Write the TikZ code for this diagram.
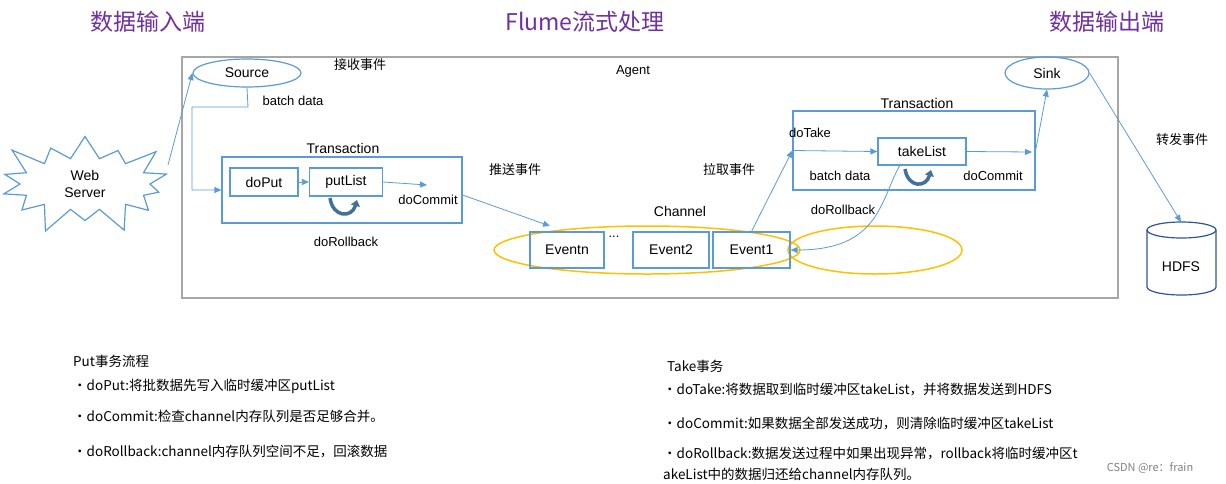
\documentclass[tikz,border=0pt]{standalone}
\usepackage{fontspec}
\setmainfont{Liberation Sans}
\newfontfamily\zh{Noto Sans CJK SC}
\usetikzlibrary{shapes.geometric,shapes.symbols,arrows.meta}
\definecolor{bl}{RGB}{91,155,213}
\definecolor{dbl}{RGB}{65,113,156}
\definecolor{yl}{RGB}{255,192,0}
\definecolor{pu}{RGB}{112,48,160}
\definecolor{hb}{RGB}{47,85,151}
\begin{document}
\begin{tikzpicture}[x=1pt,y=-1pt,
  box/.style={draw=bl,line width=1.2pt,minimum width=#1,minimum height=28pt,inner sep=0pt,font=\fontsize{14}{14}\selectfont},
  lab/.style={font=\fontsize{13}{13}\selectfont,inner sep=0pt},
  zhl/.style={font=\zh\fontsize{13}{13}\selectfont,inner sep=0pt},
  arr/.style={draw=bl,line width=0.8pt,-{Triangle[length=7pt,width=6pt]}},
  tt/.style={font=\zh\fontsize{23}{23}\selectfont,text=pu,inner sep=0pt},
  bt/.style={font=\zh\fontsize{13.5}{14}\selectfont,anchor=west,inner sep=0pt}]
\useasboundingbox (0,0) rectangle (1226,483);
\node[tt] (t1) at (148,22) {数据输入端};
\node[tt] (t2) at (585,22) {Flume流式处理};
\node[tt] (t3) at (1107,22) {数据输出端};
\draw[gray!70,line width=1.5pt] (182,57) rectangle (1118,298);
\node[draw=bl,line width=1.2pt,ellipse,minimum width=108pt,minimum height=28pt,inner sep=0pt,font=\fontsize{14}{14}\selectfont] (src) at (247,73) {Source};
\node[zhl] (recv) at (360,65) {接收事件};
\node[lab] (agent) at (633,71) {Agent};
\node[lab] (bd1) at (293,101) {batch data};
\node[draw=bl,line width=1.2pt,starburst,starburst points=14,starburst point height=30pt,minimum width=190pt,minimum height=112pt,align=center,font=\fontsize{14}{17}\selectfont,inner sep=0pt] (web) at (85,184) {Web\\Server};
\coordinate (wtip) at (168,165);
\draw[arr] (wtip) -- (src.west);
\node[draw=bl,line width=1.2pt,minimum width=240pt,minimum height=66pt,inner sep=0pt] (tr1) at (342,190) {};
\node[lab,font=\fontsize{14}{14}\selectfont] (trl1) at (343,148) {Transaction};
\draw[arr] (src.south) -- (248,107) -- (192,107) -- (192,190) -- (tr1.west);
\node[box=68pt] (doput) at (264,182) {doPut};
\node[box=73pt] (putl) at (346,182) {putList};
\draw[arr] (doput) -- (putl);
\coordinate (pc) at (427,185);
\draw[arr] (putl.east) -- (pc);
\node[lab] (dc1) at (428,200) {doCommit};
\draw[dbl,line width=3.5pt,-{Triangle[length=6pt,width=9pt]}] (330,198) .. controls (333,218) and (352,218) .. (357,200);
\node[lab] (dr1) at (346,242) {doRollback};
\node[zhl] (push) at (515,170) {推送事件};
\node[zhl] (pull) at (729,170) {拉取事件};
\node[lab,font=\fontsize{14}{14}\selectfont] (chl) at (680,211) {Channel};
\draw[yl,line width=1.5pt] (647,250) ellipse [x radius=153, y radius=24];
\draw[yl,line width=1.5pt] (875,250) ellipse [x radius=87, y radius=24];
\node[box=74pt,minimum height=36pt] (en) at (567,250) {Eventn};
\node[lab] (dots) at (614,237) {...};
\node[box=76pt,minimum height=36pt] (e2) at (671,250) {Event2};
\node[box=77pt,minimum height=36pt] (e1) at (751.5,250) {Event1};
\draw[arr] (tr1.east) ++(0,5) -- (550,226);
\node[draw=bl,line width=1.2pt,minimum width=242pt,minimum height=79pt,inner sep=0pt] (tr2) at (914,150.5) {};
\node[lab,font=\fontsize{14}{14}\selectfont] (trl2) at (917,103) {Transaction};
\node[box=88pt,minimum height=27pt] (tkl) at (922,151.5) {takeList};
\draw[arr] (e1.north) -- (tr2.west);
\draw[arr] (tr2.west) -- (tkl.west);
\node[lab] (dt) at (810,133) {doTake};
\node[lab] (bd2) at (840,176) {batch data};
\node[lab] (dc2) at (993,176) {doCommit};
\coordinate (tc) at (1032,152);
\draw[arr] (tkl.east) -- (tc);
\draw[dbl,line width=3.5pt,-{Triangle[length=6pt,width=9pt]}] (905,169) .. controls (908,188) and (926,188) .. (931,170);
\node[lab] (dr2) at (843,210) {doRollback};
\draw[arr] (900,165) .. controls (880,200) and (880,250) .. (e1.east);
\node[draw=bl,line width=1.2pt,ellipse,minimum width=84pt,minimum height=32pt,inner sep=0pt,font=\fontsize{14}{14}\selectfont] (sink) at (1047,73) {Sink};
\draw[arr] (tr2.east) -- (sink.south);
\coordinate (hdfs) at (1181,222);
\draw[hb,line width=1.2pt] (1147,230) -- (1147,287) arc[start angle=180,end angle=360,x radius=34.5,y radius=-8] -- (1216,230);
\draw[hb,line width=1.2pt] (1181.5,230) ellipse [x radius=34.5,y radius=8];
\node[lab,font=\fontsize{14}{14}\selectfont] (hl) at (1181,267) {HDFS};
\draw[arr] (sink.east) -- (hdfs);
\node[zhl] (fw) at (1182,140) {转发事件};
\node[bt] (p0) at (73,361) {Put事务流程};
\node[bt] (p1) at (73,386) {•doPut:将批数据先写入临时缓冲区putList};
\node[bt] (p2) at (73,416) {•doCommit:检查channel内存队列是否足够合并。};
\node[bt] (p3) at (73,452) {•doRollback:channel内存队列空间不足，回滚数据};
\node[bt] (q0) at (667,366) {Take事务};
\node[bt] (q1) at (663,390) {•doTake:将数据取到临时缓冲区takeList，并将数据发送到HDFS};
\node[bt] (q2) at (663,423) {•doCommit:如果数据全部发送成功，则清除临时缓冲区takeList};
\node[bt] (q3) at (663,454) {•doRollback:数据发送过程中如果出现异常，rollback将临时缓冲区t};
\node[bt] (q4) at (663,474) {akeList中的数据归还给channel内存队列。};
\node[font=\zh\fontsize{11}{11}\selectfont,text=gray,inner sep=0pt] (wm) at (1150,468) {CSDN @re：frain};
\end{tikzpicture}
\end{document}
